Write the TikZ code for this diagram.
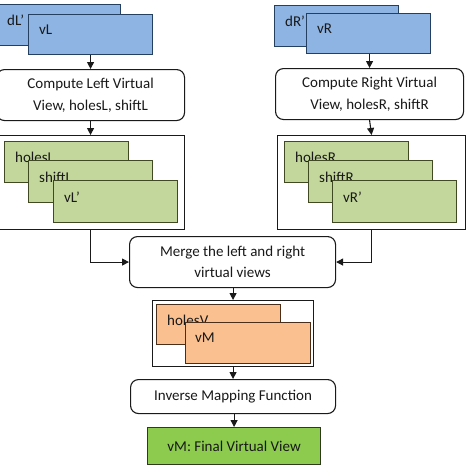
\documentclass[tikz,border=0pt]{standalone}
\usepackage{fontspec}
\setmainfont{Carlito}
\usetikzlibrary{arrows.meta}
\definecolor{blueF}{HTML}{8EB4E3}
\definecolor{blueD}{HTML}{243F60}
\definecolor{greenF}{HTML}{C3D69B}
\definecolor{greenD}{HTML}{3F4A22}
\definecolor{orangeF}{HTML}{FAC090}
\definecolor{orangeD}{HTML}{4A2E1A}
\definecolor{finalF}{HTML}{8CCB4E}
\definecolor{finalD}{HTML}{2E3A1E}
\definecolor{lineC}{HTML}{1A1A1A}
\tikzset{
  every node/.style={font=\fontsize{15}{21.5}\selectfont, text=black!90},
  layer/.style={draw, line width=1.2pt, anchor=north west, inner sep=0pt, minimum width=124pt, minimum height=41pt},
  bluebox/.style={layer, fill=blueF, draw=blueD},
  greenbox/.style={layer, fill=greenF, draw=greenD},
  orangebox/.style={layer, fill=orangeF, draw=orangeD},
  lbl/.style={anchor=west, inner sep=0pt},
  proc/.style={draw=lineC, line width=1.1pt, rounded corners=8pt, fill=white, anchor=north west, inner sep=0pt, align=center},
  frame/.style={draw=lineC, line width=1.1pt, anchor=north west, inner sep=0pt},
  finalbox/.style={draw=finalD, line width=1.2pt, fill=finalF, anchor=north west, inner sep=0pt},
  conn/.style={draw=lineC, line width=1.1pt, -{Triangle[length=7pt,width=7pt]}},
}
\begin{document}
\begin{tikzpicture}[x=1pt,y=-1pt]
\useasboundingbox (0,0) rectangle (474,474);
\clip (0,0) rectangle (474,474);
% ---------- left column ----------
\node[bluebox] (dL) at (-4,4) {};
\node[lbl] (dLt) at ([xshift=11pt,yshift=-16pt]dL.north west) {dL’};
\node[bluebox, minimum height=40pt] (vL) at (28,14) {};
\node[lbl] (vLt) at ([xshift=11pt,yshift=-16pt]vL.north west) {vL};
\node[proc, minimum width=188pt, minimum height=51pt] (cL) at (-4,69) {Compute Left Virtual\\View, holesL, shiftL};
\node[frame, minimum width=188pt, minimum height=94pt] (fL) at (-4,135) {};
\node[greenbox] (hL) at (4,141) {};
\node[lbl] (hLt) at ([xshift=11pt,yshift=-16pt]hL.north west) {holesL};
\node[greenbox, minimum height=42pt] (sL) at (28,160) {};
\node[lbl] (sLt) at ([xshift=11pt,yshift=-17pt]sL.north west) {shiftL};
\node[greenbox, minimum height=42pt] (pL) at (53,180) {};
\node[lbl] (pLt) at ([xshift=11pt,yshift=-17pt]pL.north west) {vL’};
% ---------- right column ----------
\node[bluebox] (dR) at (274,5) {};
\node[lbl] (dRt) at ([xshift=11pt,yshift=-16pt]dR.north west) {dR’};
\node[bluebox, minimum height=40pt] (vR) at (306,13) {};
\node[lbl] (vRt) at ([xshift=11pt,yshift=-16pt]vR.north west) {vR};
\node[proc, minimum width=188pt, minimum height=51pt] (cR) at (275,68) {Compute Right Virtual\\View, holesR, shiftR};
\node[frame, minimum width=188pt, minimum height=94pt] (fR) at (277,135) {};
\node[greenbox] (hR) at (284,141) {};
\node[lbl] (hRt) at ([xshift=11pt,yshift=-16pt]hR.north west) {holesR};
\node[greenbox, minimum height=42pt] (sR) at (308,160) {};
\node[lbl] (sRt) at ([xshift=11pt,yshift=-17pt]sR.north west) {shiftR};
\node[greenbox, minimum height=42pt] (pR) at (332,180) {};
\node[lbl] (pRt) at ([xshift=11pt,yshift=-17pt]pR.north west) {vR’};
% ---------- centre ----------
\node[proc, minimum width=206pt, minimum height=51pt] (mg) at (129,236) {Merge the left and right\\virtual views};
\node[frame, minimum width=161pt, minimum height=66pt] (fM) at (152,300) {};
\node[orangebox, minimum height=40pt] (hV) at (156,304) {};
\node[lbl] (hVt) at ([xshift=11pt,yshift=-16pt]hV.north west) {holesV};
\node[orangebox, minimum width=125pt, minimum height=41pt] (vM) at (185,322) {};
\node[lbl] (vMt) at ([xshift=10pt,yshift=-16pt]vM.north west) {vM};
\node[proc, minimum width=205pt, minimum height=34pt] (inv) at (130,379) {Inverse Mapping Function};
\node[finalbox, minimum width=173pt, minimum height=37pt] (fin) at (147,427) {vM: Final Virtual View};
% ---------- connectors ----------
\draw[conn] (vL.south -| cL.north) -- (cL.north);
\draw[conn] (cL.south) -- (fL.north);
\draw[conn] (vR.south -| cR.north) -- (cR.north);
\draw[conn] (cR.south) -- (fR.north);
\draw[conn] (fL.south) |- (mg.west);
\draw[conn] (fR.south) |- (mg.east);
\draw[conn] (mg.south -| fM.north) -- (fM.north);
\draw[conn] (fM.south -| inv.north) -- (inv.north);
\draw[conn] (inv.south -| fin.north) -- (fin.north);
\end{tikzpicture}
\end{document}
